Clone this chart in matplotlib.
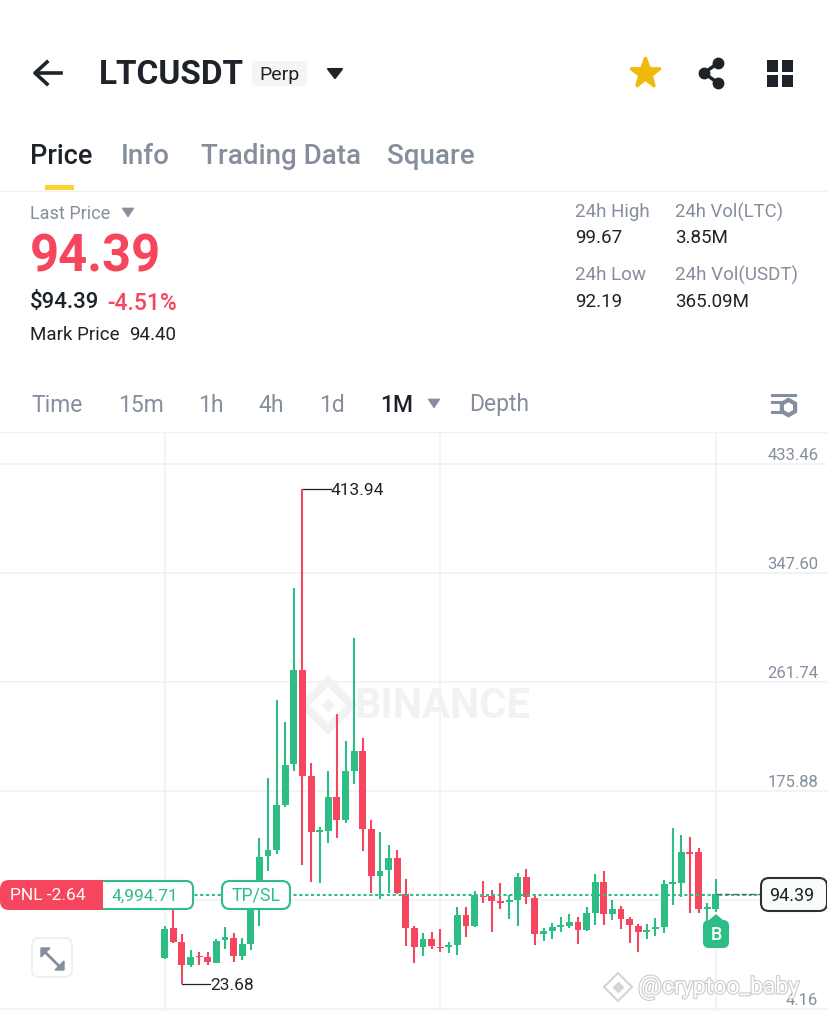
import numpy as np
import matplotlib
matplotlib.use("Agg")
import matplotlib.pyplot as plt
import matplotlib.patheffects as pe
from matplotlib.patches import FancyBboxPatch, Polygon, Rectangle

plt.rcParams['font.family'] = ['Roboto', 'DejaVu Sans']

# monthly candles
highs = [69.8, 94.0, 63.2, 50.6, 49.3, 49.3, 59.3, 68.7, 64.0, 60.1, 94.0, 138.9, 186.5, 247.6, 230.2, 336.1,
         413.94, 197.6, 147.8, 191.6, 236.5, 214.9, 296.4, 217.6, 153.0, 143.3, 133.7, 129.4, 106.6, 69.9, 64.0, 65.0,
         67.2, 57.0, 84.5, 84.5, 97.4, 105.2, 97.9, 103.4, 94.0, 111.5, 114.7, 93.2, 67.9, 72.1, 76.6, 79.0,
         76.6, 84.7, 110.5, 112.9, 90.0, 85.3, 76.6, 71.1, 71.1, 75.8, 105.8, 147.0, 141.2, 139.9, 131.0, 87.9, 106.6]
lows = [43.4, 56.1, 23.68, 37.2, 38.8, 38.8, 40.4, 51.4, 41.4, 42.8, 50.6, 69.6, 112.9, 126.2, 163.3, 191.6,
        117.6, 104.4, 103.4, 135.0, 138.9, 151.0, 181.6, 128.6, 95.9, 91.0, 95.9, 94.7, 53.8, 40.4, 46.2, 51.4,
        49.3, 48.3, 46.9, 60.9, 68.7, 87.9, 64.8, 83.2, 75.0, 69.8, 86.9, 54.6, 57.7, 59.3, 64.8, 68.0,
        55.7, 65.6, 70.3, 70.3, 74.3, 67.2, 56.1, 49.1, 59.3, 61.7, 64.0, 86.1, 92.4, 79.8, 80.0, 72.9, 80.6]
opens = [44.7, 67.9, 57.2, 38.8, 45.9, 45.1, 40.6, 58.5, 60.3, 45.9, 55.4, 90.0, 124.4, 129.4, 165.1, 197.2,
         271.2, 187.7, 143.8, 144.4, 171.5, 153.0, 191.6, 207.7, 146.0, 109.1, 113.7, 123.3, 95.1, 67.9, 53.2, 59.0,
         53.2, 53.0, 54.6, 78.4, 69.8, 93.4, 93.2, 89.2, 88.4, 90.0, 108.1, 91.6, 63.5, 65.8, 68.7, 69.5,
         72.7, 66.4, 80.0, 104.4, 79.0, 82.9, 75.0, 69.5, 65.0, 67.2, 68.7, 102.7, 103.4, 127.8, 127.8, 82.9, 83.2]
closes = [67.1, 57.2, 38.8, 45.4, 44.9, 41.2, 57.7, 60.9, 45.9, 55.4, 90.0, 123.9, 129.4, 164.9, 196.4, 271.2,
          187.7, 143.8, 145.4, 171.5, 153.0, 191.6, 207.7, 146.0, 109.1, 113.2, 123.3, 95.5, 67.9, 53.4, 59.3, 53.8,
          52.2, 54.6, 78.4, 69.8, 94.2, 92.4, 89.2, 87.9, 90.0, 108.1, 92.4, 63.5, 65.6, 68.7, 70.3, 72.7,
          66.4, 79.8, 104.4, 79.2, 82.9, 75.0, 70.3, 64.8, 66.4, 68.7, 102.7, 104.2, 127.8, 126.5, 82.9, 84.5, 94.39]

price_ticks = [4.16, 90.02, 175.88, 261.74, 347.60, 433.46]
shown_ticks = [4.16, 175.88, 261.74, 347.60, 433.46]  # 90.02 sits behind the last price box
time_grid = [0, 32, 64]
last_price = 94.39
high_label = 413.94
low_label = 23.68

GREEN = '#2EBD85'
RED = '#F6465D'
DARK = '#1E2329'
GREY = '#848E9C'
LINE = '#F0F1F2'

fig = plt.figure(figsize=(8.28, 10.11), dpi=100, facecolor='white')

# chart axes run over pixel rows 432..1011 and the whole width
ax = fig.add_axes([0, 0, 1, (1011 - 432) / 1011])
ax.set_xlim(-19.13, 77.04)
ax.set_ylim(2.6, 458.7)
for s in ax.spines.values():
    s.set_visible(False)
ax.set_xticks(time_grid)
ax.set_yticks(price_ticks)
ax.set_xticklabels([])
ax.set_yticklabels([])
ax.tick_params(length=0)
ax.grid(True, color=LINE, lw=1.2)
ax.set_axisbelow(True)

# exchange logo behind the candles
ax.text(0.4275, 0.5265, 'BINANCE', transform=ax.transAxes, fontsize=30, fontweight='bold',
        color='#F1F2F3', ha='left', va='center', zorder=1)
ax.plot([0.396], [0.5285], transform=ax.transAxes, marker='D', ms=24, mfc='white', mec='#F1F2F3', mew=6, zorder=1)
ax.plot([0.396], [0.5285], transform=ax.transAxes, marker='D', ms=6, mfc='#F1F2F3', mec='#F1F2F3', zorder=1)

x = np.arange(len(opens))
o = np.array(opens)
c = np.array(closes)
colors = [GREEN if b >= a else RED for a, b in zip(opens, closes)]
ax.vlines(x, lows, highs, color=colors, lw=1.5, zorder=3)
ax.bar(x, np.abs(c - o), bottom=np.minimum(o, c), width=0.8, color=colors, zorder=3)

for t in shown_ticks:
    ax.annotate(f'{t:.2f}', xy=(1, t), xycoords=ax.get_yaxis_transform(), xytext=(-7, 5.8),
                textcoords='offset points', ha='right', va='center', fontsize=12, color=GREY)

i_hi = highs.index(high_label)
i_lo = lows.index(low_label)
for i, v in [(i_hi, high_label), (i_lo, low_label)]:
    ax.plot([i, i + 3.3], [v, v], color=DARK, lw=0.9, zorder=2)
    ax.annotate(f'{v:.2f}', xy=(i + 3.3, v), xytext=(0, -1.2), textcoords='offset points',
                fontsize=12.5, color=DARK, va='center')

ax.plot([-3.3, 69.2], [last_price - 0.4, last_price - 0.4], color=GREEN, lw=1.5, ls=(0, (1.5, 1.3)), zorder=4)
ax.plot([64, 69.2], [last_price, last_price], color='#5E6673', lw=1.0, ls=(0, (4, 2)), zorder=4)

# screen furniture in pixel coordinates, on top of the chart
ui = fig.add_axes([0, 0, 1, 1], facecolor='none')
ui.set_xlim(0, 828)
ui.set_ylim(1011, 0)
ui.axis('off')


def label(px, py, s, size, color=DARK, weight='normal', ha='left'):
    ui.text(px, py + 2, s, fontsize=size, color=color, fontweight=weight, ha=ha, va='center')


def box(x0, y0, x1, y1, r, fc, ec='none', lw=1.5):
    p = FancyBboxPatch((x0 + r, y0 + r), x1 - x0 - 2 * r, y1 - y0 - 2 * r,
                       boxstyle=f'round,pad={r},rounding_size={r}', fc=fc, ec=ec, lw=lw)
    ui.add_patch(p)


# header
ui.plot([36, 61], [73, 73], color=DARK, lw=2.6)
ui.plot([47, 35, 47], [62, 73, 84], color=DARK, lw=2.6)
label(99, 73, 'LTCUSDT', 24, weight='bold')
box(252, 61, 307, 86, 5, '#F5F5F5')
label(259, 73, 'Perp', 14)
ui.add_patch(Polygon([[328, 69], [342, 69], [335, 78]], fc=DARK, ec=DARK, lw=1.5, joinstyle='round'))
ui.plot([645], [73], marker='*', ms=23, color='#F0B90B', mec='#F0B90B', mew=2, mfc='#F0B90B')
ui.plot([718, 704, 718], [63, 73, 83], color=DARK, lw=2.5)
ui.plot([718, 704, 718], [63, 73, 83], ls='none', marker='o', ms=7.5, color=DARK)
for gx in [767, 782]:
    for gy in [60, 75]:
        ui.add_patch(Rectangle((gx, gy), 11.5, 11.5, fc=DARK))

# tabs
label(30, 154, 'Price', 19.5, weight='medium')
label(121, 154, 'Info', 20, GREY, 'medium')
label(201, 154, 'Trading Data', 20, GREY, 'medium')
label(387, 154, 'Square', 20, GREY, 'medium')
ui.add_patch(Rectangle((45, 185), 29, 5, fc='#FCD535'))
ui.plot([0, 828], [190.5, 190.5], color=LINE, lw=1)

# price block
label(30, 212, 'Last Price', 13, GREY)
ui.add_patch(Polygon([[122, 208], [134, 208], [128, 217]], fc=GREY, ec=GREY, lw=0.5))
label(30, 256, f'{last_price:.2f}', 36.5, RED, 'bold')
label(30, 301, f'${last_price:.2f}', 16, weight='medium')
label(107, 301, '-4.51%', 16.5, RED, 'medium')
label(30, 333, 'Mark Price', 13.5)
label(129, 333, '94.40', 13.5)
label(575, 210, '24h High', 13.5, GREY)
label(575, 236, '99.67', 13.5)
label(575, 273, '24h Low', 13.5, GREY)
label(575, 300, '92.19', 13.5)
label(675, 210, '24h Vol(LTC)', 13.3, GREY)
label(675, 236, '3.85M', 13.5)
label(675, 273, '24h Vol(USDT)', 13.5, GREY)
label(675, 300, '365.09M', 13.5)

# interval row
for px, s in [(31, 'Time'), (118, '15m'), (198, '1h'), (258, '4h'), (319, '1d'), (469, 'Depth')]:
    label(px, 403, s, 16.5, GREY)
label(380, 403, '1M', 16.5, weight='medium')
ui.add_patch(Polygon([[428, 399], [440, 399], [434, 408]], fc=GREY, ec=GREY, lw=0.5))
ui.plot([772, 795], [395, 395], color=GREY, lw=2.2)
ui.plot([772, 781], [402, 402], color=GREY, lw=2.2)
ui.plot([772, 781], [412, 412], color=GREY, lw=2.2)
ui.plot([788], [407], marker='h', ms=11, mfc='white', mec=GREY, mew=3)
ui.plot([0, 828], [432, 432], color=LINE, lw=1)

# position labels
box(90, 881, 193, 909, 7, 'white', GREEN)
box(0, 880, 100, 910, 9, RED)
ui.add_patch(Rectangle((88, 880), 15, 30, fc=RED))
label(10, 894, 'PNL -2.64', 12.5, 'white')
label(145, 894, '4,994.71', 12.5, GREEN, ha='center')
box(222, 881, 290, 909, 8, 'white', GREEN)
label(256, 894, 'TP/SL', 12.7, GREEN, ha='center')
box(761, 878, 827, 911, 8, '#F9FCFB', '#2B3139')
label(792, 894, '94.39', 13, DARK, ha='center')

# buy marker
ui.add_patch(Polygon([[709, 921], [716, 915], [723, 921]], fc=GREEN, ec=GREEN))
box(703, 920, 729, 948, 6, GREEN)
label(716, 933, 'B', 13, 'white', 'medium', ha='center')

# expand button
box(32, 938, 72, 977, 7, 'white', '#F0F1F2', 1.5)
ui.plot([44, 61], [951, 968], color=GREY, lw=2)
ui.add_patch(Polygon([[41, 948], [50, 948], [41, 957]], fc=GREY, ec=GREY))
ui.add_patch(Polygon([[64, 970], [55, 970], [64, 961]], fc=GREY, ec=GREY))

# post watermark
outline = [pe.withStroke(linewidth=1.6, foreground='#C9CCCF')]
ui.text(638, 987, '@', fontsize=19, color='white', va='center', path_effects=outline)
ui.text(662, 987, 'cryptoo_baby', fontsize=16.6, color='white', va='center', path_effects=outline)
ui.plot([618], [987], marker='D', ms=14, mfc='white', mec='#D3D5D8', mew=1.5)
ui.plot([618], [987], marker='D', ms=5, mfc='#D3D5D8', mec='#D3D5D8')

fig.savefig('out.png', dpi=100)
